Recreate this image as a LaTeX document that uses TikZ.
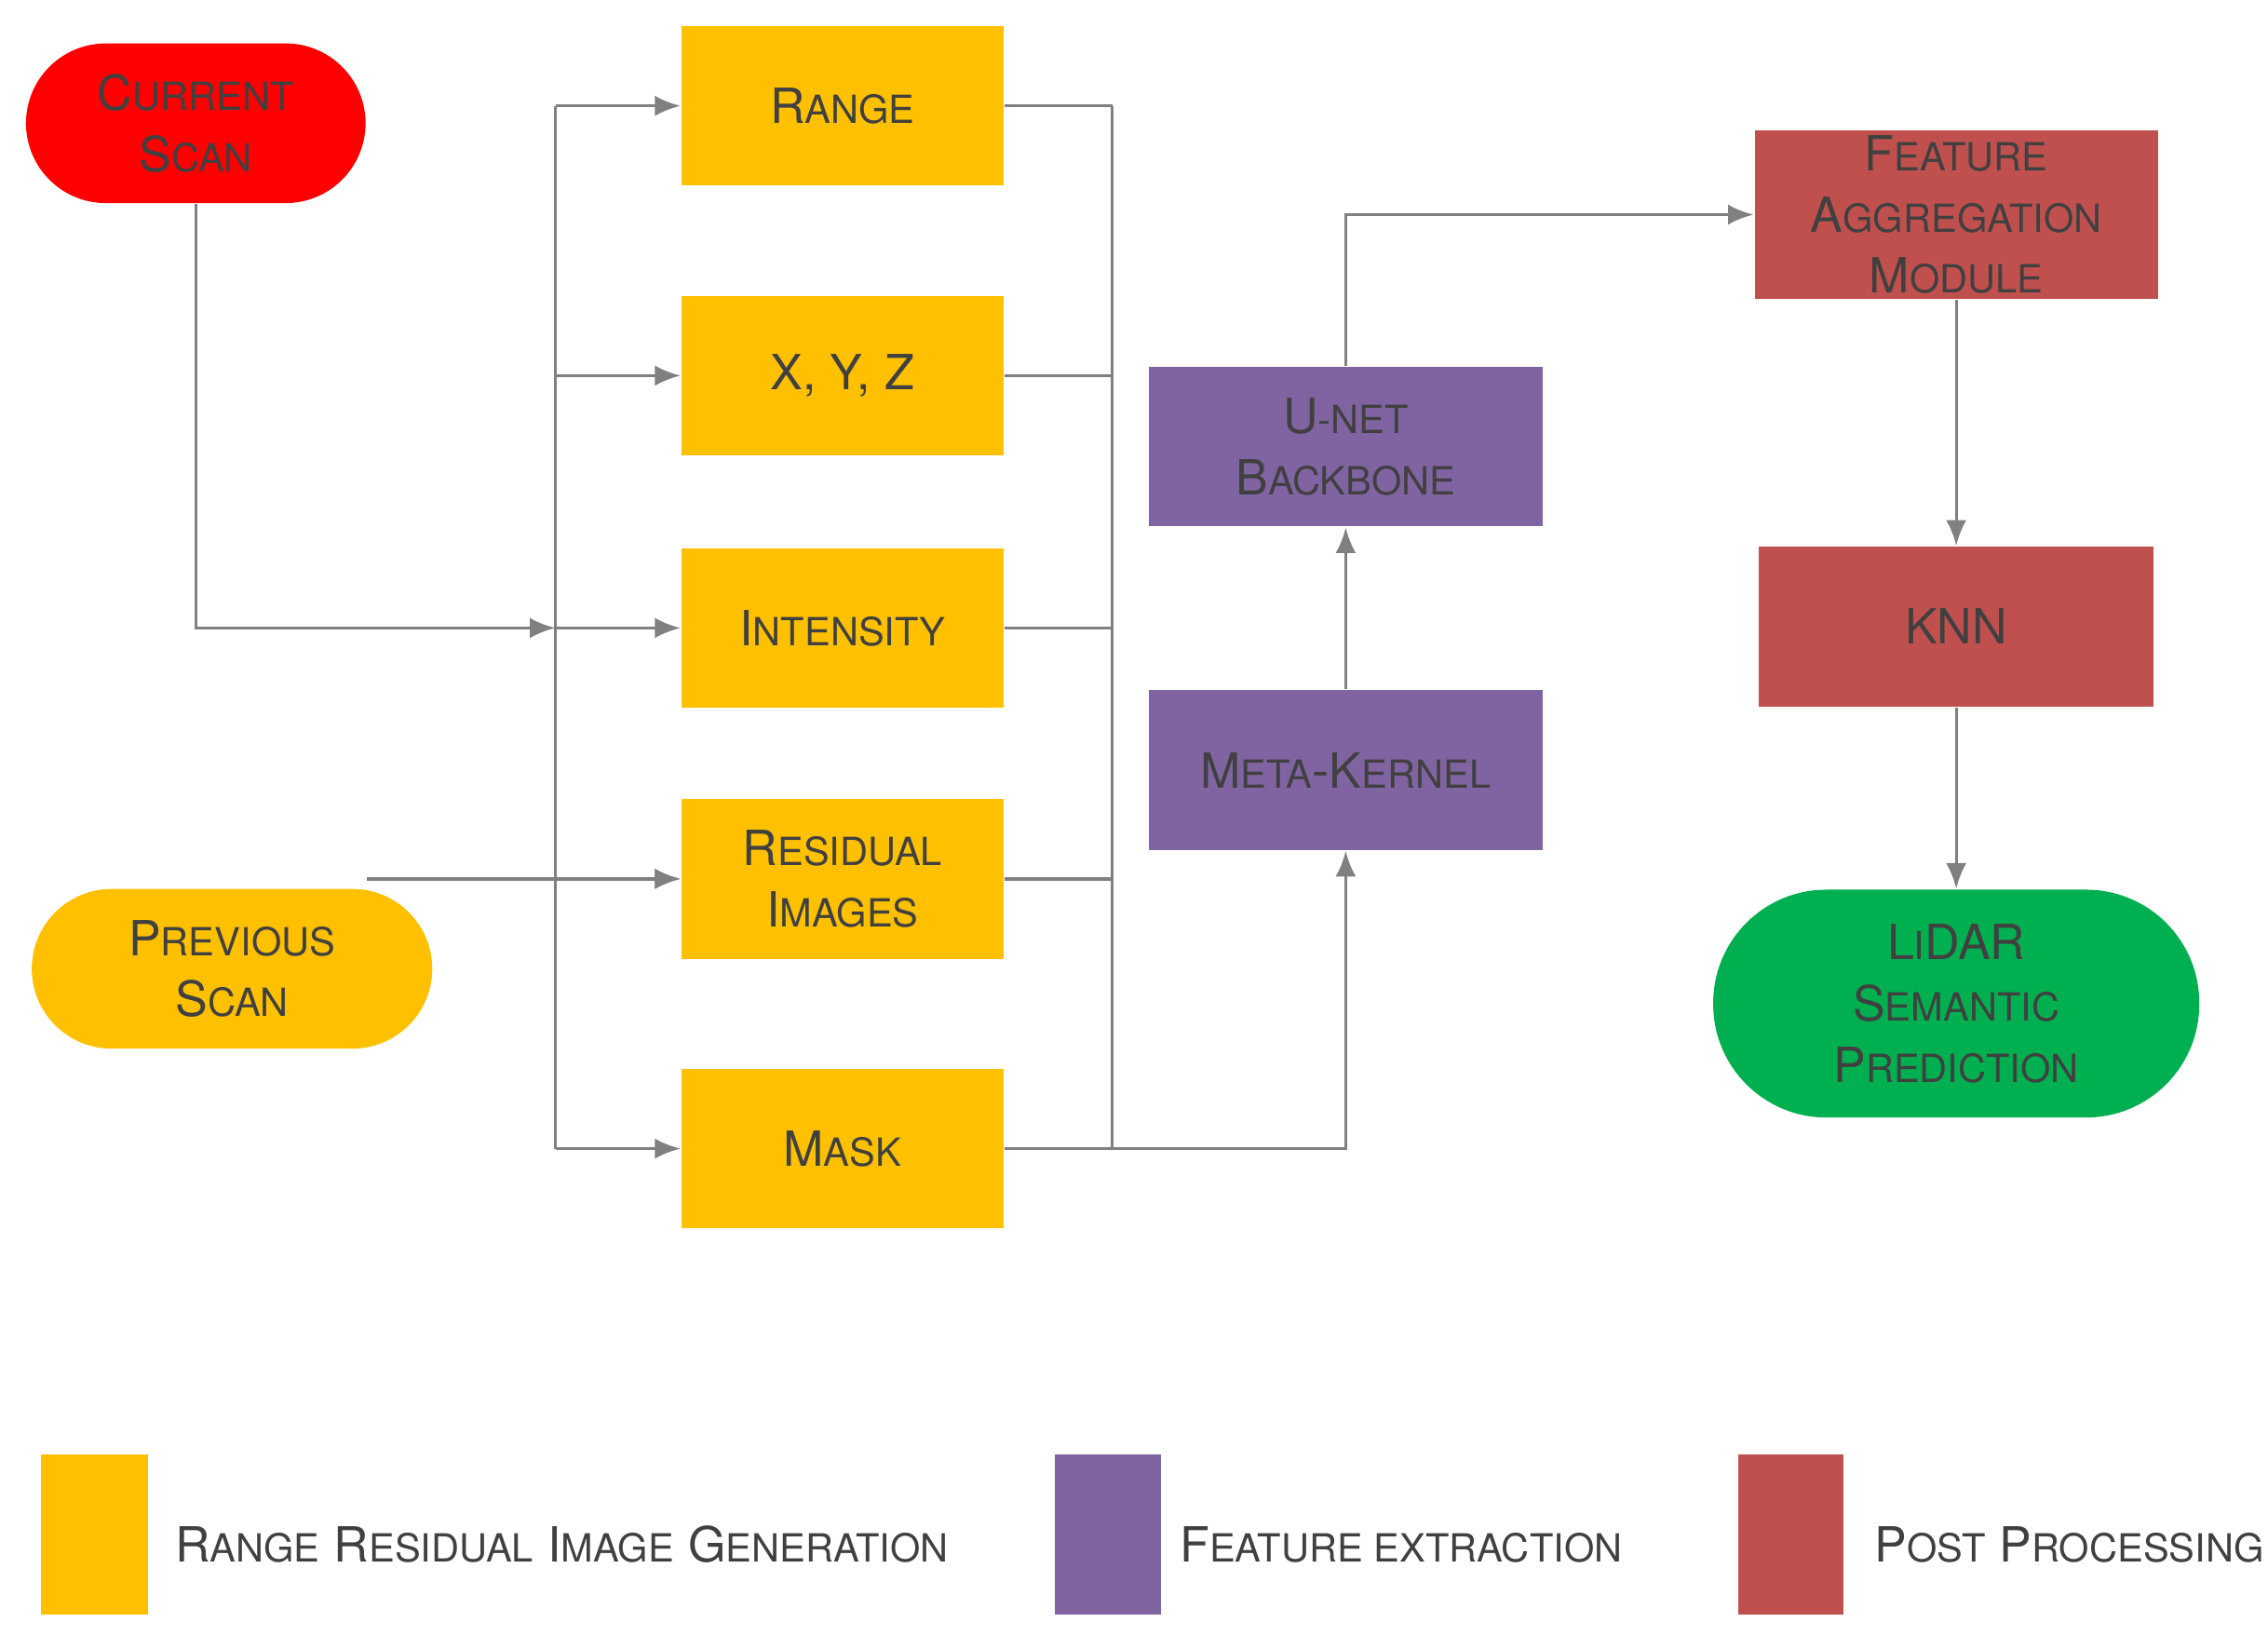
\documentclass[tikz,border=0pt]{standalone}
\usepackage{fontspec}
\setmainfont{TeX Gyre Heros}
\usetikzlibrary{arrows.meta}
\newcommand{\sct}[2]{{\fontsize{9.5}{11}\selectfont #1}{\fontsize{7.6}{11}\selectfont #2}}
\definecolor{yel}{HTML}{FFC000}
\definecolor{pur}{HTML}{8064A2}
\definecolor{rd}{HTML}{C0504D}
\definecolor{grn}{HTML}{00B050}
\tikzset{
  box/.style={rectangle, fill=#1, minimum width=2.22cm, minimum height=1.1cm, align=center, text=black!75, inner sep=1pt},
  pill/.style={rectangle, rounded corners=0.55cm, fill=#1, align=center, text=black!75},
  wire/.style={draw=black!50, line width=0.6pt},
  arr/.style={wire, -{Latex[length=5pt,width=4pt]}},
}
\begin{document}
\begin{tikzpicture}[x=0.01cm, y=-0.01cm]
  \useasboundingbox (0,0) rectangle (1564,1128);

  \node[pill=red, minimum width=2.34cm, minimum height=1.1cm] (cur) at (135,85) {\sct{C}{URRENT}\\\sct{S}{CAN}};
  \node[pill=yel, minimum width=2.76cm, minimum height=1.1cm] (prev) at (160,668) {\sct{P}{REVIOUS}\\\sct{S}{CAN}};

  \node[box=yel] (range) at (581,73) {\sct{R}{ANGE}};
  \node[box=yel] (xyz) at (581,259) {\sct{X}{}\sct{,}{} \sct{Y}{}\sct{,}{} \sct{Z}{}};
  \node[box=yel] (inten) at (581,433) {\sct{I}{NTENSITY}};
  \node[box=yel] (resid) at (581,606) {\sct{R}{ESIDUAL}\\\sct{I}{MAGES}};
  \node[box=yel] (mask) at (581,792) {\sct{M}{ASK}};

  \node[box=pur, minimum width=2.71cm] (unet) at (928,308) {\sct{U}{-NET}\\\sct{B}{ACKBONE}};
  \node[box=pur, minimum width=2.71cm] (meta) at (928,531) {\sct{M}{ETA}-\sct{K}{ERNEL}};

  \node[box=rd, minimum width=2.78cm, minimum height=1.12cm] (agg) at (1349,148) {\sct{F}{EATURE}\\\sct{A}{GGREGATION}\\\sct{M}{ODULE}};
  \node[box=rd, minimum width=2.72cm] (knn) at (1349,432) {\sct{KNN}{}};
  \node[pill=grn, rounded corners=0.78cm, minimum width=3.35cm, minimum height=1.57cm] (lidar) at (1349,692) {\sct{L}{I}\sct{DAR}{}\\\sct{S}{EMANTIC}\\\sct{P}{REDICTION}};

  % input bus
  \coordinate (bt) at (383,73);
  \coordinate (bb) at (383,792);
  \draw[wire] (bt) -- (bb);
  \foreach \n in {range,xyz,inten,resid,mask}
    \draw[arr] (bt |- \n.west) -- (\n.west);
  \draw[arr] (cur.south) |- (383,433);
  \coordinate (ps) at (253,606);
  \draw[arr] (ps) -- (resid.west);

  % output bus
  \coordinate (ot) at (767,73);
  \coordinate (ob) at (767,792);
  \draw[wire] (ot) -- (ob);
  \foreach \n in {range,xyz,inten,resid,mask}
    \draw[wire] (\n.east) -- (ot |- \n.east);
  \draw[arr] (mask.east) -| (meta.south);
  \draw[arr] (meta.north) -- (unet.south);
  \draw[arr] (unet.north) |- (agg.west);
  \draw[arr] (agg.south) -- (knn.north);
  \draw[arr] (knn.south) -- (lidar.north);

  % legend
  \node[fill=yel, minimum width=0.74cm, minimum height=1.1cm] (ly) at (65,1058) {};
  \node[fill=pur, minimum width=0.73cm, minimum height=1.1cm] (lp) at (764,1058) {};
  \node[fill=rd, minimum width=0.73cm, minimum height=1.1cm] (lr) at (1235,1058) {};
  \node[anchor=west, text=black!75, inner sep=0] (ty) at (120,1065) {\sct{R}{ANGE} \sct{R}{ESIDUAL} \sct{I}{MAGE} \sct{G}{ENERATION}};
  \node[anchor=west, text=black!75, inner sep=0] (tp) at (813,1065) {\sct{F}{EATURE EXTRACTION}};
  \node[anchor=west, text=black!75, inner sep=0] (tr) at (1292,1065) {\sct{P}{OST} \sct{P}{ROCESSING}};
\end{tikzpicture}
\end{document}
